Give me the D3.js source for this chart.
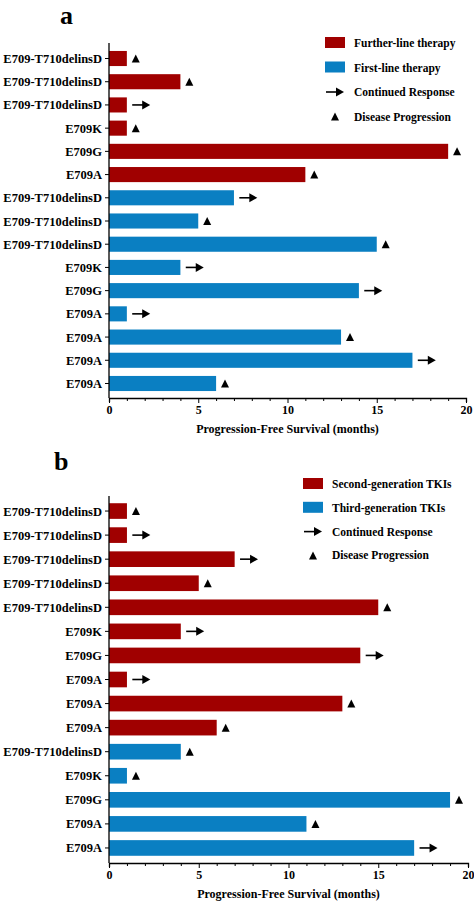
<!doctype html>
<html><head><script src="https://d3js.org/d3.v7.min.js"></script>
<style>body{margin:0;background:#fff}svg text{font-family:"Liberation Serif","Times New Roman","DejaVu Serif",serif !important;font-weight:bold}</style>
</head><body><div id="chart"></div>
<script>
// panel a
const labelsA = ["E709-T710delinsD","E709-T710delinsD","E709-T710delinsD","E709K","E709G","E709A",
  "E709-T710delinsD","E709-T710delinsD","E709-T710delinsD","E709K","E709G","E709A","E709A","E709A","E709A"];
const valuesA = [1,4,1,1,19,11,7,5,15,4,14,1,13,17,6];
const groupA  = [0,0,0,0,0,0,1,1,1,1,1,1,1,1,1];
const eventA  = ["P","P","C","P","P","P","C","P","P","C","C","C","P","C","P"];
const legendA = ["Further-line therapy","First-line therapy"];
// panel b
const labelsB = ["E709-T710delinsD","E709-T710delinsD","E709-T710delinsD","E709-T710delinsD","E709-T710delinsD",
  "E709K","E709G","E709A","E709A","E709A","E709-T710delinsD","E709K","E709G","E709A","E709A"];
const valuesB = [1,1,7,5,15,4,14,1,13,6,4,1,19,11,17];
const groupB  = [0,0,0,0,0,0,0,0,0,0,1,1,1,1,1];
const eventB  = ["P","C","C","P","P","C","C","C","P","P","P","P","P","P","C"];
const legendB = ["Second-generation TKIs","Third-generation TKIs"];
const ticks = [0,5,10,15,20];
const colors = ["#a00000","#0a7fc2"];

const svg = d3.select("#chart").append("svg").attr("width",474).attr("height",906);

function panel(o){
  const g = svg.append("g");
  const x = d3.scaleLinear().domain([0,20]).range([109,o.x20]);
  const y = d3.scaleBand().domain(d3.range(o.labels.length)).range([o.top,o.bottom]).paddingInner(0.35).paddingOuter(0.3);
  g.append("text").attr("x",o.lx).attr("y",o.ly).attr("font-size",26).text(o.letter);
  g.selectAll("rect.bar").data(o.values).join("rect").attr("class","bar")
    .attr("x",x(0)).attr("y",(d,i)=>y(i)).attr("width",d=>x(d)-x(0)).attr("height",y.bandwidth())
    .attr("fill",(d,i)=>colors[o.group[i]]);
  o.values.forEach((v,i)=>{
    const cy = y(i)+y.bandwidth()/2;
    if(o.events[i]==="P"){
      const cx = x(v+0.5);
      g.append("path").attr("d",`M${cx-4},${cy+4}L${cx+4},${cy+4}L${cx},${cy-4}Z`).attr("fill","#000");
    } else {
      arrow(g, x(v+0.3), cy);
    }
  });
  g.append("line").attr("x1",x(0)).attr("x2",x(0)).attr("y1",o.axisTop).attr("y2",o.axisY).attr("stroke","#000").attr("stroke-width",1.3);
  g.selectAll("line.yt").data(o.values).join("line").attr("x1",x(0)-4).attr("x2",x(0))
    .attr("y1",(d,i)=>y(i)+y.bandwidth()/2).attr("y2",(d,i)=>y(i)+y.bandwidth()/2).attr("stroke","#000");
  g.selectAll("text.yl").data(o.labels).join("text").attr("x",x(0)-7).attr("y",(d,i)=>y(i)+y.bandwidth()/2+4.5)
    .attr("text-anchor","end").attr("font-size",12.5).text(d=>d);
  const ax = g.append("g").attr("transform",`translate(0,${o.axisY})`)
    .call(d3.axisBottom(x).tickValues(d3.range(0,21)).tickSize(4).tickFormat(d=>ticks.includes(d)?d:""));
  ax.select(".domain").attr("stroke-width",1.3);
  ax.selectAll(".tick line").attr("y2",d=>ticks.includes(d)?5:3);
  ax.selectAll("text").attr("font-size",12).attr("fill","#000");
  g.append("text").attr("x",(x(0)+x(20))/2).attr("y",o.axisY+35).attr("text-anchor","middle").attr("font-size",12)
    .text("Progression-Free Survival (months)");
  // legend
  const lg = g.append("g");
  o.legend.forEach((t,i)=>{
    lg.append("rect").attr("x",o.legX).attr("y",o.legY+i*o.legStep-6).attr("width",20).attr("height",11).attr("fill",colors[i]);
  });
  arrow(lg, o.legX+1, o.legY+2*o.legStep);
  const tx = o.legX+10, ty = o.legY+3*o.legStep;
  lg.append("path").attr("d",`M${tx-4},${ty+4}L${tx+4},${ty+4}L${tx},${ty-4}Z`);
  o.legend.concat(["Continued Response","Disease Progression"]).forEach((t,i)=>{
    lg.append("text").attr("x",o.legX+29).attr("y",o.legY+i*o.legStep+4).attr("font-size",11.5).text(t);
  });
}
function arrow(g,x0,cy){
  g.append("line").attr("x1",x0).attr("x2",x0+11).attr("y1",cy).attr("y2",cy).attr("stroke","#000").attr("stroke-width",1.6);
  g.append("path").attr("d",`M${x0+10},${cy-4.5}L${x0+18},${cy}L${x0+10},${cy+4.5}Z`);
}
panel({letter:"a",lx:60,ly:24,labels:labelsA,values:valuesA,group:groupA,events:eventA,legend:legendA,
  x20:466,top:44,bottom:398,axisTop:43,axisY:398,legX:325,legY:43,legStep:24.5});
panel({letter:"b",lx:54,ly:470,labels:labelsB,values:valuesB,group:groupB,events:eventB,legend:legendB,
  x20:468,top:496,bottom:863,axisTop:496,axisY:863,legX:303,legY:484,legStep:23.8});
</script></body></html>
